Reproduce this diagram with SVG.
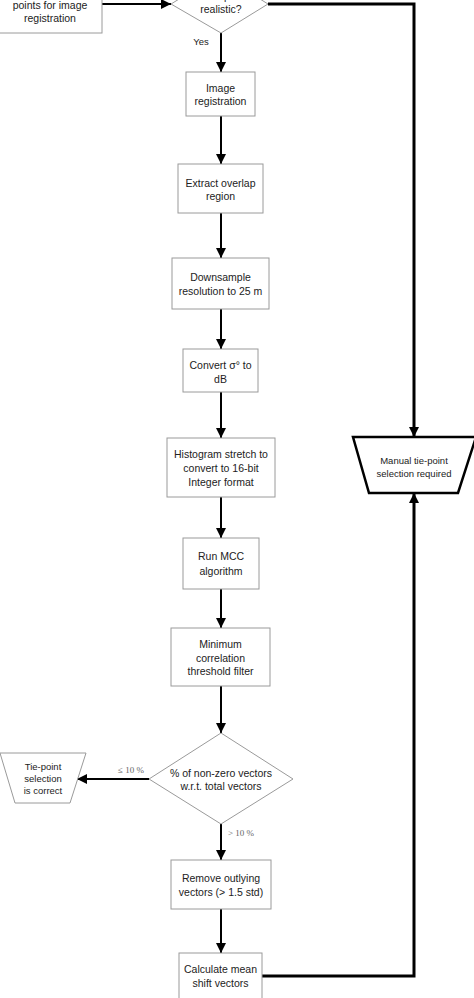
<svg xmlns="http://www.w3.org/2000/svg" width="474" height="998" viewBox="0 0 474 998">
<style>
.box{fill:#fff;stroke:#9a9a9a;stroke-width:1}
.t{font-family:"Liberation Sans",Arial,sans-serif;font-size:10.5px;fill:#222;text-anchor:middle}
.s{font-family:"Liberation Sans",Arial,sans-serif;font-size:9.5px;fill:#222;text-anchor:middle}
.lbl{font-family:"Liberation Serif","Times New Roman",serif;font-size:9px;fill:#666}
.c{fill:none;stroke:#000;stroke-width:2}
.ck{fill:none;stroke:#000;stroke-width:3}
.tz{fill:#fff;stroke:#000;stroke-width:2.5}
.tz2{fill:#fff;stroke:#9a9a9a;stroke-width:1}
</style>
<defs>
<marker id="ah" markerUnits="userSpaceOnUse" markerWidth="10" markerHeight="10" viewBox="0 0 10 10" refX="10" refY="5" orient="auto">
<path d="M0,0 L10,5 L0,10 z" fill="#000"/>
</marker>
</defs>
<rect width="474" height="998" fill="#fff"/>
<g id="connectors">
<line class="c" x1="102" y1="4" x2="171" y2="4" marker-end="url(#ah)"/>
<line class="c" x1="221" y1="33" x2="221" y2="72" marker-end="url(#ah)"/>
<line class="c" x1="221" y1="116" x2="221" y2="164" marker-end="url(#ah)"/>
<line class="c" x1="221" y1="213" x2="221" y2="258" marker-end="url(#ah)"/>
<line class="c" x1="221" y1="309" x2="221" y2="349" marker-end="url(#ah)"/>
<line class="c" x1="221" y1="392" x2="221" y2="438" marker-end="url(#ah)"/>
<line class="c" x1="221" y1="497" x2="221" y2="538" marker-end="url(#ah)"/>
<line class="c" x1="221" y1="589" x2="221" y2="628" marker-end="url(#ah)"/>
<line class="c" x1="221" y1="686" x2="221" y2="733" marker-end="url(#ah)"/>
<line class="c" x1="149" y1="779" x2="77" y2="779" marker-end="url(#ah)"/>
<line class="c" x1="221" y1="824" x2="221" y2="860" marker-end="url(#ah)"/>
<line class="c" x1="221" y1="909" x2="221" y2="953" marker-end="url(#ah)"/>
<polyline class="ck" points="268,4 414,4 414,437" marker-end="url(#ah)"/>
<polyline class="ck" points="262,976 414,976 414,493" marker-end="url(#ah)"/>
<text class="s" x="201" y="45">Yes</text>
<text class="lbl" x="118" y="773">≤ 10 %</text>
<text class="lbl" x="228" y="836">&gt; 10 %</text>
</g>
<g id="select-tiepoints">
<rect class="box" x="-2" y="-40" width="104" height="73"/>
<text class="t" x="50" y="9">points for image</text>
<text class="t" x="50" y="22">registration</text>
</g>
<g id="realistic">
<polygon class="box" points="220,-26 268,4 221,33 171,4"/>
<text class="t" x="221" y="0">Are tie-points</text>
<text class="t" x="221" y="13">realistic?</text>
</g>
<g id="image-registration">
<rect class="box" x="186" y="72" width="69" height="44"/>
<text class="t" x="220.5" y="92">Image</text>
<text class="t" x="220.5" y="105">registration</text>
</g>
<g id="extract">
<rect class="box" x="178" y="164" width="85" height="49"/>
<text class="t" x="220.5" y="187">Extract overlap</text>
<text class="t" x="220.5" y="200">region</text>
</g>
<g id="downsample">
<rect class="box" x="172" y="258" width="97" height="51"/>
<text class="t" x="220.5" y="281">Downsample</text>
<text class="t" x="220.5" y="295">resolution to 25 m</text>
</g>
<g id="convert">
<rect class="box" x="183" y="349" width="75" height="43"/>
<text class="t" x="220.5" y="369">Convert σ° to</text>
<text class="t" x="220.5" y="383">dB</text>
</g>
<g id="histogram">
<rect class="box" x="167" y="438" width="108" height="59"/>
<text class="t" x="221" y="458">Histogram stretch to</text>
<text class="t" x="221" y="472">convert to 16-bit</text>
<text class="t" x="221" y="486">Integer format</text>
</g>
<g id="mcc">
<rect class="box" x="183" y="538" width="76" height="51"/>
<text class="t" x="221" y="560">Run MCC</text>
<text class="t" x="221" y="575">algorithm</text>
</g>
<g id="minimum">
<rect class="box" x="171" y="628" width="99" height="58"/>
<text class="t" x="220.5" y="648">Minimum</text>
<text class="t" x="220.5" y="662">correlation</text>
<text class="t" x="220.5" y="675">threshold filter</text>
</g>
<g id="nonzero">
<polygon class="box" points="221,733 293,779 221,824 149,779"/>
<text class="t" x="221" y="777">% of non-zero vectors</text>
<text class="t" x="221" y="790">w.r.t. total vectors</text>
</g>
<g id="tiepoint-correct">
<polygon class="tz2" points="0,753 86,753 70,803 15,803"/>
<text class="s" x="43" y="770">Tie-point</text>
<text class="s" x="43" y="782">selection</text>
<text class="s" x="43" y="794">is correct</text>
</g>
<g id="remove">
<rect class="box" x="171" y="860" width="100" height="49"/>
<text class="t" x="221" y="882">Remove outlying</text>
<text class="t" x="221" y="896">vectors (&gt; 1.5 std)</text>
</g>
<g id="calculate">
<rect class="box" x="179" y="953" width="83" height="50"/>
<text class="t" x="220.5" y="973">Calculate mean</text>
<text class="t" x="220.5" y="987">shift vectors</text>
</g>
<g id="manual">
<polygon class="tz" points="353,437 476,437 458,493 369,493"/>
<text class="s" x="414" y="464">Manual tie-point</text>
<text class="s" x="414" y="477">selection required</text>
</g>
</svg>
